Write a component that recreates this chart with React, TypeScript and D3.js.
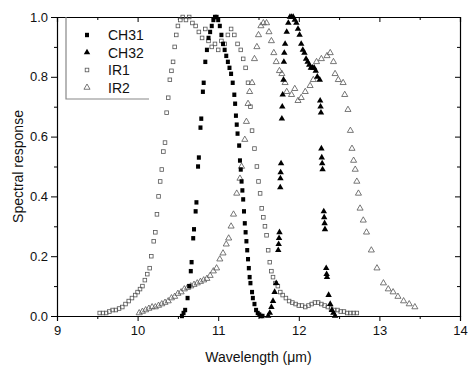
import React, { useEffect, useRef } from 'react';
import * as d3 from 'd3';

type Pt = [number, number];

// wavelength (um), spectral response
const ch31: Pt[] = [
  [10.55, 0.0], [10.57, 0.01], [10.59, 0.02], [10.62, 0.06], [10.64, 0.1], [10.66, 0.15],
  [10.67, 0.18], [10.69, 0.26], [10.7, 0.29], [10.72, 0.35], [10.73, 0.38], [10.75, 0.5],
  [10.76, 0.53], [10.78, 0.63], [10.79, 0.66], [10.81, 0.75], [10.82, 0.78], [10.84, 0.85],
  [10.86, 0.89], [10.88, 0.93], [10.9, 0.95], [10.92, 0.97], [10.94, 0.99], [10.96, 1.0],
  [10.98, 1.0], [11.0, 0.99], [11.02, 0.97], [11.04, 0.94], [11.06, 0.91], [11.08, 0.89],
  [11.1, 0.87], [11.12, 0.85], [11.14, 0.83], [11.16, 0.81], [11.18, 0.78], [11.2, 0.74],
  [11.21, 0.71], [11.22, 0.67], [11.23, 0.64], [11.24, 0.61], [11.26, 0.57], [11.27, 0.52],
  [11.28, 0.49], [11.29, 0.45], [11.3, 0.42], [11.31, 0.39], [11.32, 0.35], [11.33, 0.31],
  [11.34, 0.28], [11.35, 0.25], [11.36, 0.22], [11.37, 0.19], [11.38, 0.16], [11.39, 0.13],
  [11.4, 0.11], [11.42, 0.08], [11.43, 0.06], [11.45, 0.04], [11.47, 0.02], [11.49, 0.01],
  [11.51, 0.005], [11.53, 0.0], [11.55, 0.0],
];

const ch32: Pt[] = [
  [11.62, 0.0], [11.64, 0.01], [11.66, 0.03], [11.68, 0.05], [11.7, 0.08], [11.72, 0.11],
  [11.745, 0.22], [11.75, 0.24], [11.755, 0.26], [11.76, 0.28], [11.77, 0.43], [11.772, 0.46],
  [11.775, 0.48], [11.78, 0.51], [11.79, 0.66], [11.795, 0.7], [11.8, 0.74], [11.81, 0.79],
  [11.815, 0.85], [11.82, 0.88], [11.83, 0.91], [11.85, 0.95], [11.87, 0.98], [11.89, 1.0],
  [11.91, 1.0], [11.93, 1.0], [11.95, 0.99], [11.97, 0.98], [11.99, 0.96], [12.01, 0.94],
  [12.03, 0.91], [12.05, 0.89], [12.07, 0.88], [12.09, 0.86], [12.11, 0.85], [12.13, 0.84],
  [12.15, 0.83], [12.17, 0.83], [12.19, 0.83], [12.21, 0.82], [12.23, 0.8], [12.26, 0.79],
  [12.265, 0.72], [12.27, 0.7], [12.275, 0.68], [12.28, 0.56], [12.285, 0.53], [12.29, 0.51],
  [12.295, 0.49], [12.31, 0.35], [12.315, 0.33], [12.32, 0.31], [12.325, 0.29], [12.34, 0.16],
  [12.345, 0.14], [12.35, 0.13], [12.37, 0.07], [12.39, 0.04], [12.41, 0.02], [12.43, 0.01],
  [12.45, 0.0],
];

const ir1: Pt[] = [
  [9.53, 0.01], [9.57, 0.01], [9.61, 0.01], [9.65, 0.015], [9.69, 0.02], [9.73, 0.02],
  [9.77, 0.025], [9.81, 0.03], [9.85, 0.04], [9.89, 0.05], [9.93, 0.06], [9.97, 0.07],
  [10.0, 0.08], [10.03, 0.09], [10.06, 0.1], [10.09, 0.12], [10.12, 0.14], [10.15, 0.16],
  [10.17, 0.2], [10.2, 0.25], [10.22, 0.28], [10.24, 0.34], [10.26, 0.4], [10.28, 0.45],
  [10.3, 0.49], [10.32, 0.55], [10.34, 0.58], [10.36, 0.68], [10.38, 0.73], [10.4, 0.79],
  [10.42, 0.82], [10.44, 0.85], [10.46, 0.9], [10.48, 0.94], [10.5, 0.97], [10.53, 0.99],
  [10.56, 1.0], [10.6, 0.99], [10.64, 1.0], [10.68, 0.98], [10.72, 0.97], [10.76, 0.95],
  [10.8, 0.93], [10.84, 0.96], [10.88, 0.92], [10.92, 0.9], [10.96, 0.91], [11.0, 0.89],
  [11.04, 0.92], [11.08, 0.91], [11.12, 0.94], [11.16, 0.96], [11.2, 0.94], [11.24, 0.91],
  [11.28, 0.89], [11.31, 0.86], [11.34, 0.83], [11.37, 0.78], [11.4, 0.7], [11.42, 0.62],
  [11.45, 0.56], [11.48, 0.5], [11.5, 0.45], [11.52, 0.41], [11.54, 0.36], [11.56, 0.33],
  [11.58, 0.3], [11.6, 0.27], [11.62, 0.22], [11.64, 0.18], [11.66, 0.15], [11.68, 0.13],
  [11.71, 0.11], [11.74, 0.1], [11.77, 0.08], [11.8, 0.07], [11.84, 0.06], [11.88, 0.05],
  [11.92, 0.045], [11.96, 0.04], [12.0, 0.035], [12.04, 0.035], [12.08, 0.03], [12.12, 0.035],
  [12.16, 0.04], [12.2, 0.045], [12.24, 0.045], [12.28, 0.04], [12.32, 0.035], [12.36, 0.03],
  [12.4, 0.025], [12.44, 0.02], [12.48, 0.02], [12.52, 0.015], [12.56, 0.015], [12.6, 0.01],
  [12.64, 0.01], [12.68, 0.01], [12.72, 0.01],
];

const ir2: Pt[] = [
  [10.02, 0.01], [10.06, 0.015], [10.1, 0.02], [10.14, 0.025], [10.18, 0.03], [10.22, 0.03],
  [10.26, 0.035], [10.3, 0.04], [10.34, 0.045], [10.38, 0.05], [10.42, 0.06], [10.46, 0.065],
  [10.5, 0.075], [10.54, 0.08], [10.58, 0.09], [10.62, 0.095], [10.66, 0.1], [10.7, 0.105],
  [10.74, 0.11], [10.78, 0.115], [10.82, 0.12], [10.86, 0.125], [10.9, 0.135], [10.94, 0.15],
  [10.98, 0.16], [11.02, 0.19], [11.06, 0.21], [11.1, 0.24], [11.13, 0.26], [11.16, 0.3],
  [11.19, 0.34], [11.23, 0.41], [11.27, 0.46], [11.29, 0.5], [11.33, 0.59], [11.35, 0.65],
  [11.37, 0.71], [11.39, 0.75], [11.42, 0.78], [11.45, 0.86], [11.48, 0.9], [11.5, 0.94],
  [11.53, 0.97], [11.56, 0.98], [11.6, 0.98], [11.63, 0.95], [11.66, 0.92], [11.69, 0.88],
  [11.72, 0.85], [11.76, 0.82], [11.79, 0.81], [11.83, 0.78], [11.85, 0.75], [11.91, 0.74],
  [11.95, 0.76], [11.99, 0.72], [12.03, 0.73], [12.08, 0.75], [12.14, 0.77], [12.18, 0.79],
  [12.22, 0.85], [12.28, 0.86], [12.35, 0.87], [12.39, 0.88], [12.43, 0.85], [12.45, 0.81],
  [12.49, 0.79], [12.55, 0.78], [12.57, 0.74], [12.61, 0.69], [12.64, 0.62], [12.66, 0.56],
  [12.68, 0.52], [12.7, 0.49], [12.72, 0.45], [12.74, 0.41], [12.76, 0.36], [12.8, 0.32],
  [12.84, 0.28], [12.9, 0.22], [12.97, 0.16], [13.05, 0.11], [13.11, 0.09], [13.17, 0.08],
  [13.23, 0.065], [13.3, 0.05], [13.37, 0.04], [13.44, 0.03],
];

const xTicks = [9, 10, 11, 12, 13, 14];
const yTicks = [0, 0.2, 0.4, 0.6, 0.8, 1.0];
const legendLabels = ['CH31', 'CH32', 'IR1', 'IR2'];

const W = 474;
const H = 368;
const margin = { top: 17, right: 14, bottom: 52, left: 57 };
const FONT = "Arial, 'Liberation Sans', Helvetica, sans-serif";

const App: React.FC = () => {
  const svgRef = useRef<SVGSVGElement>(null);

  useEffect(() => {
    if (!svgRef.current) return;
    const svg = d3.select(svgRef.current);
    svg.selectAll('*').remove();

    const innerWidth = W - margin.left - margin.right;
    const innerHeight = H - margin.top - margin.bottom;

    const x = d3.scaleLinear().domain([9, 14]).range([0, innerWidth]);
    const y = d3.scaleLinear().domain([0, 1]).range([innerHeight, 0]);

    const g = svg.append('g').attr('transform', `translate(${margin.left},${margin.top})`);

    const minorX = d3.range(9.5, 14, 1);
    const minorY = d3.range(0.1, 1, 0.2);

    // bottom axis
    const bx = g.append('g').attr('transform', `translate(0,${innerHeight})`)
      .call(d3.axisBottom(x).tickValues(xTicks).tickFormat(d3.format('d')).tickSize(5).tickPadding(5));
    g.append('g').attr('transform', `translate(0,${innerHeight})`)
      .call(d3.axisBottom(x).tickValues(minorX).tickFormat(() => '').tickSize(3))
      .select('.domain').remove();
    // left axis
    const ly = g.append('g')
      .call(d3.axisLeft(y).tickValues(yTicks).tickFormat(d3.format('.1f')).tickSize(6).tickPadding(3));
    g.append('g')
      .call(d3.axisLeft(y).tickValues(minorY).tickFormat(() => '').tickSize(3))
      .select('.domain').remove();
    // top axis (inner ticks)
    g.append('g')
      .call(d3.axisTop(x).tickValues(xTicks).tickFormat(() => '').tickSize(-5));
    g.append('g')
      .call(d3.axisTop(x).tickValues(minorX).tickFormat(() => '').tickSize(-3))
      .select('.domain').remove();
    // right axis (inner ticks)
    g.append('g').attr('transform', `translate(${innerWidth},0)`)
      .call(d3.axisRight(y).tickValues(yTicks).tickFormat(() => '').tickSize(-5));
    g.append('g').attr('transform', `translate(${innerWidth},0)`)
      .call(d3.axisRight(y).tickValues(minorY).tickFormat(() => '').tickSize(-3))
      .select('.domain').remove();

    g.selectAll('.domain').attr('stroke', '#000').attr('stroke-width', 1.2);
    g.selectAll('.tick line').attr('stroke', '#000');
    [bx, ly].forEach((a) =>
      a.selectAll('text').attr('font-family', FONT).attr('font-size', 13).attr('fill', '#111')
    );

    const tri = d3.symbol().type(d3.symbolTriangle);

    // IR2: open triangles
    g.selectAll('.ir2').data(ir2).enter().append('path')
      .attr('transform', (d) => `translate(${x(d[0])},${y(d[1])})`)
      .attr('d', tri.size(16)())
      .attr('fill', 'none').attr('stroke', '#555').attr('stroke-width', 0.8);

    // IR1: open squares
    g.selectAll('.ir1').data(ir1).enter().append('rect')
      .attr('x', (d) => x(d[0]) - 1.8).attr('y', (d) => y(d[1]) - 1.8)
      .attr('width', 3.6).attr('height', 3.6)
      .attr('fill', 'none').attr('stroke', '#555').attr('stroke-width', 0.8);

    // CH31: filled squares
    g.selectAll('.ch31').data(ch31).enter().append('rect')
      .attr('x', (d) => x(d[0]) - 2).attr('y', (d) => y(d[1]) - 2.2)
      .attr('width', 4).attr('height', 4.4)
      .attr('fill', '#000');

    // CH32: filled triangles
    g.selectAll('.ch32').data(ch32).enter().append('path')
      .attr('transform', (d) => `translate(${x(d[0])},${y(d[1])})`)
      .attr('d', tri.size(18)())
      .attr('fill', '#000');

    // legend
    const lg = g.append('g').attr('transform', `translate(9,0)`);
    lg.append('path').attr('d', `M0,0 V82 H83`).attr('fill', 'none').attr('stroke', '#888').attr('stroke-width', 1.2);
    legendLabels.forEach((label, i) => {
      const cy = 18 + i * 17.5;
      const sx = 21;
      if (i === 0) {
        lg.append('rect').attr('x', sx - 2).attr('y', cy - 2.2).attr('width', 4).attr('height', 4.4).attr('fill', '#000');
      } else if (i === 1) {
        lg.append('path').attr('transform', `translate(${sx},${cy})`).attr('d', tri.size(18)()).attr('fill', '#000');
      } else if (i === 2) {
        lg.append('rect').attr('x', sx - 1.8).attr('y', cy - 1.8).attr('width', 3.6).attr('height', 3.6)
          .attr('fill', 'none').attr('stroke', '#555').attr('stroke-width', 0.8);
      } else {
        lg.append('path').attr('transform', `translate(${sx},${cy})`).attr('d', tri.size(16)())
          .attr('fill', 'none').attr('stroke', '#555').attr('stroke-width', 0.8);
      }
      lg.append('text').attr('x', 42).attr('y', cy + 5).text(label)
        .attr('font-family', FONT).attr('font-size', 14).attr('fill', '#111');
    });

    // axis titles
    svg.append('text')
      .attr('x', margin.left + innerWidth / 2).attr('y', 362)
      .attr('text-anchor', 'middle')
      .attr('font-family', FONT).attr('font-size', 14).attr('fill', '#111')
      .text('Wavelength (\u03bcm)');
    svg.append('text')
      .attr('transform', `translate(23,${margin.top + innerHeight / 2}) rotate(-90)`)
      .attr('text-anchor', 'middle')
      .attr('font-family', FONT).attr('font-size', 14).attr('fill', '#111')
      .text('Spectral response');
  }, []);

  return (
    <svg
      ref={svgRef}
      width={W}
      height={H}
      style={{ position: 'absolute', left: 0, top: 0, background: '#fff' }}
    />
  );
};

export default App;
